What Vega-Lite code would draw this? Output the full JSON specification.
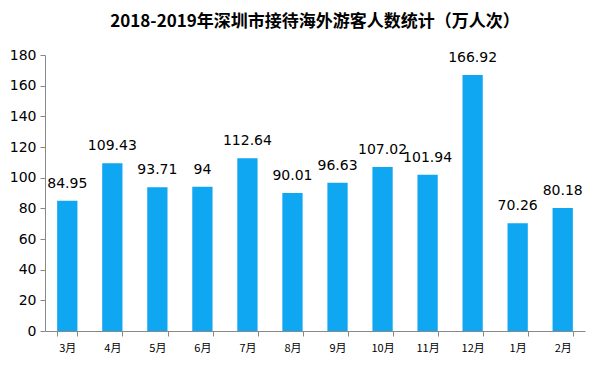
{
  "$schema": "https://vega.github.io/schema/vega-lite/v6.json",
  "autosize": {"type": "none"},
  "width": 540,
  "height": 276,
  "padding": {"left": 45, "top": 55, "right": 15, "bottom": 34},
  "background": "white",
  "title": {
    "text": "2018-2019年深圳市接待海外游客人数统计（万人次）",
    "font": "Noto Sans CJK SC",
    "fontSize": 17,
    "fontWeight": "bold",
    "color": "#000000",
    "anchor": "middle",
    "offset": 17
  },
  "data": {
    "values": [
      {"month": "3月", "value": 84.95, "label": "84.95"},
      {"month": "4月", "value": 109.43, "label": "109.43"},
      {"month": "5月", "value": 93.71, "label": "93.71"},
      {"month": "6月", "value": 94, "label": "94"},
      {"month": "7月", "value": 112.64, "label": "112.64"},
      {"month": "8月", "value": 90.01, "label": "90.01"},
      {"month": "9月", "value": 96.63, "label": "96.63"},
      {"month": "10月", "value": 107.02, "label": "107.02"},
      {"month": "11月", "value": 101.94, "label": "101.94"},
      {"month": "12月", "value": 166.92, "label": "166.92"},
      {"month": "1月", "value": 70.26, "label": "70.26"},
      {"month": "2月", "value": 80.18, "label": "80.18"}
    ]
  },
  "encoding": {
    "x": {
      "field": "month",
      "type": "nominal",
      "sort": null,
      "scale": {"paddingInner": 0.55, "paddingOuter": 0.27},
      "axis": {
        "title": null,
        "labelAngle": 0,
        "labelFont": "Noto Sans CJK SC",
        "labelFontSize": 11,
        "labelColor": "#000000",
        "labelPadding": 6,
        "domainColor": "#888888",
        "tickColor": "#888888",
        "tickBand": "extent",
        "tickSize": 5,
        "grid": false
      }
    },
    "y": {
      "field": "value",
      "type": "quantitative",
      "scale": {"domain": [0, 180], "nice": false},
      "axis": {
        "title": null,
        "values": [0, 20, 40, 60, 80, 100, 120, 140, 160, 180],
        "labelFont": "DejaVu Sans",
        "labelFontSize": 14,
        "labelColor": "#000000",
        "labelPadding": 4,
        "domainColor": "#888888",
        "tickColor": "#888888",
        "tickSize": 5,
        "grid": false
      }
    }
  },
  "layer": [
    {"mark": {"type": "bar", "color": "#0FA6F2"}},
    {
      "mark": {"type": "text", "dy": -17, "font": "DejaVu Sans", "fontSize": 14, "color": "#000000"},
      "encoding": {"text": {"field": "label"}}
    }
  ],
  "config": {"view": {"stroke": null}}
}
